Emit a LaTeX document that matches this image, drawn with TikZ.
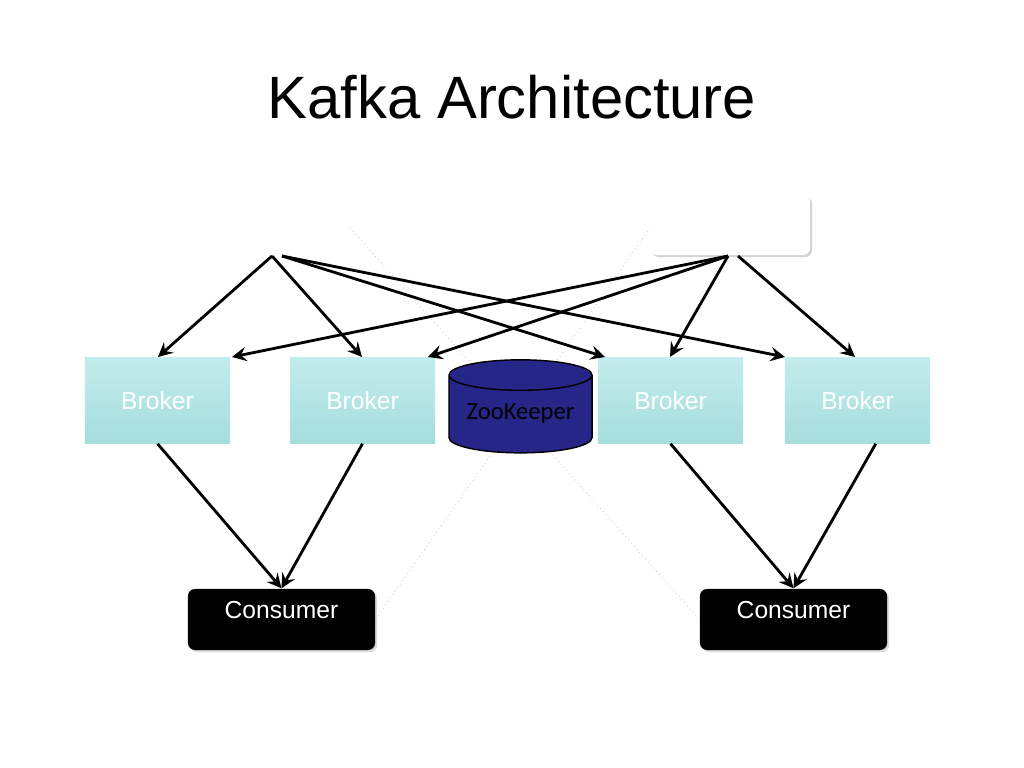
\documentclass[tikz,border=0pt]{standalone}
\usepackage{fontspec}
\setmainfont{Liberation Sans}
\newfontfamily\calibri{Carlito}
\usetikzlibrary{shapes.geometric,shadows}
\begin{document}
\begin{tikzpicture}[x=0.01cm,y=-0.01cm]
        \useasboundingbox (0,0) rectangle (1024,768);
        \tikzset{
                broker/.style={minimum width=1.45cm, minimum height=0.85cm, top color=cyan!10!white!85!teal, bottom color=cyan!25!teal!35, draw=none, text=white, font=\fontsize{7}{8}\selectfont},
                consumer/.style={fill=black, rounded corners=2pt, minimum width=1.87cm, minimum height=0.61cm, text=white, font=\fontsize{7}{8}\selectfont, drop shadow={opacity=0.3, shadow xshift=0.6pt, shadow yshift=-0.6pt}, text depth=0.2cm},
                conn/.style={thick, ->, >=stealth},
                guide/.style={gray!50, densely dotted, very thin}
        }
        % title
        \node (title) at (512,97) {\fontsize{17}{20}\selectfont Kafka Architecture};
        % guide lines
        \draw[guide] (350,228) -- (700,620);
        \draw[guide] (650,228) -- (375,620);
        % producers
        \node[fill=white, rounded corners=2pt, minimum width=1.6cm, minimum height=0.6cm, drop shadow={opacity=0.35, shadow xshift=0.6pt, shadow yshift=-0.6pt}] (P2) at (730,225) {};
        \coordinate (p1a) at (272,256);
        \coordinate (p1b) at (282,256);
        \coordinate (p2a) at (728,256);
        \coordinate (p2b) at (738,256);
        % brokers
        \node[broker] (B1) at (157.5,400.5) {Broker};
        \node[broker] (B2) at (362.5,400.5) {Broker};
        \node[broker] (B3) at (670.5,400.5) {Broker};
        \node[broker] (B4) at (857.5,400.5) {Broker};
        \node[cylinder, shape border rotate=90, aspect=1.3, fill=blue!45!black!85!white, draw=black, minimum width=1.43cm, minimum height=0.93cm] (ZK) at (520.5,418.5) {};
        \node[font=\calibri\fontsize{7}{8}\selectfont] (ZKtext) at (520.5,414) {ZooKeeper};
        % consumers
        \node[consumer] (C1) at (281.5,619.5) {Consumer};
        \node[consumer] (C2) at (793.5,619.5) {Consumer};
        % arrows
        \coordinate (t1) at (158,357); \coordinate (t1b) at (232,357);
        \coordinate (t2) at (362,357); \coordinate (t2b) at (428,357);
        \coordinate (t3) at (605,357); \coordinate (t3b) at (670,357);
        \coordinate (t4) at (785,357); \coordinate (t4b) at (855,357);
        \draw[conn] (p1a) -- (t1);
        \draw[conn] (p1a) -- (t2);
        \draw[conn] (p1b) -- (t3);
        \draw[conn] (p1b) -- (t4);
        \draw[conn] (p2a) -- (t1b);
        \draw[conn] (p2a) -- (t2b);
        \draw[conn] (p2a) -- (t3b);
        \draw[conn] (p2b) -- (t4b);
        \draw[conn] (B1.south) -- (C1.north);
        \draw[conn] (B2.south) -- (C1.north);
        \draw[conn] (B3.south) -- (C2.north);
        \draw[conn] (B4.south east) ++(-55,0) -- (C2.north);
\end{tikzpicture}
\end{document}
